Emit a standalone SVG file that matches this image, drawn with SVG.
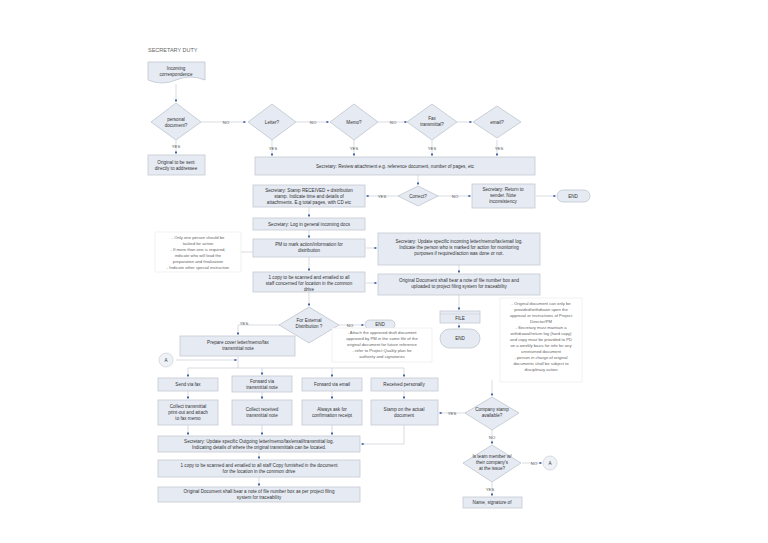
<svg xmlns="http://www.w3.org/2000/svg" width="768" height="543" viewBox="0 0 768 543">
<style>
text{font-family:"Liberation Sans",Arial,sans-serif;font-size:4.6px;fill:#333;text-anchor:middle}
.b{fill:#e6ebf3;stroke:#c4c9d1;stroke-width:0.8}
.d{fill:#e6ebf3;stroke:#b8bec8;stroke-width:0.7}
.n{fill:#fff;stroke:#e2e2e2;stroke-width:0.5}
.l{fill:none;stroke:#c8cdd4;stroke-width:0.7}
.lb{font-size:4.2px;fill:#555}
.nt{font-size:4.2px;fill:#666}
</style>
<defs><marker id="a" viewBox="0 0 6 6" refX="5.5" refY="3" markerWidth="4" markerHeight="4" orient="auto"><path d="M0,0L6,3L0,6z" fill="#3f63a8"/></marker></defs>
<rect width="768" height="543" fill="#fff"/>
<text x="148" y="52" style="text-anchor:start;font-size:5.5px;fill:#666">SECRETARY DUTY</text>
<g id="connectors" class="l" marker-end="url(#a)">
<path d="M176,84V102"/>
<path d="M201,122H246"/><path d="M296,122H329"/><path d="M378,122H407"/><path d="M457,122H472"/>
<path d="M176,140V154"/><path d="M272,140V156"/><path d="M354,140V156"/><path d="M432,140V156"/><path d="M497,140V156"/>
<path d="M418,175V185"/><path d="M399,196H366"/><path d="M437,196H471"/><path d="M536,196H556"/>
<path d="M309,207V217"/><path d="M309,230V238"/><path d="M309,257V271"/>
<path d="M366,248H377"/><path d="M459,265V273"/><path d="M366,283H377"/>
<path d="M459,295V310"/><path d="M459,323V328"/>
<path d="M309,292V306"/><path d="M339,325H364"/>
<path d="M280,325H238V335"/>
<path d="M238,356V368H188V377" /><path d="M176,360H237"/>
<path d="M238,368H262V375"/><path d="M262,368H332V377"/><path d="M332,368H404V377"/>
<path d="M188,391V399"/><path d="M262,392V399"/><path d="M332,391V399"/><path d="M404,391V399"/>
<path d="M188,425V435"/><path d="M262,425V435"/><path d="M332,425V435"/>
<path d="M492,380V396"/><path d="M467,413H439"/>
<path d="M404,425V444H361"/>
<path d="M492,430V444"/><path d="M522,463H542"/><path d="M492,482V496"/>
<path d="M259,452V459"/><path d="M259,477V486"/>
<path d="M240,252H253" marker-end="none"/>
</g>
<g id="n-start"><path class="d" d="M148,62H205V80Q190,74 176,80T148,80Z"/><text x="176" y="70">Incoming</text><text x="176" y="76">correspondence</text></g>
<g id="d-personal"><path class="d" d="M176,103L201,122L176,140L151,122Z"/><text x="176" y="121">personal</text><text x="176" y="127">document?</text></g>
<g id="d-letter"><path class="d" d="M272,104L296,122L272,140L248,122Z"/><text x="272" y="124">Letter?</text></g>
<g id="d-memo"><path class="d" d="M354,104L378,122L354,140L330,122Z"/><text x="354" y="124">Memo?</text></g>
<g id="d-fax"><path class="d" d="M432,104L457,122L432,140L407,122Z"/><text x="432" y="120">Fax</text><text x="432" y="126">transmittal?</text></g>
<g id="d-email"><path class="d" d="M497,106L521,122L497,138L473,122Z"/><text x="497" y="124">email?</text></g>
<g class="lb"><text class="lb" x="226" y="124">NO</text><text class="lb" x="313" y="124">NO</text><text class="lb" x="393" y="124">NO</text>
<text class="lb" x="176" y="148">YES</text><text class="lb" x="273" y="150">YES</text><text class="lb" x="354" y="150">YES</text><text class="lb" x="432" y="150">YES</text><text class="lb" x="499" y="150">YES</text>
<text class="lb" x="382" y="198">YES</text><text class="lb" x="455" y="198">NO</text><text class="lb" x="244" y="325">YES</text><text class="lb" x="350" y="327">NO</text>
<text class="lb" x="452" y="415">YES</text><text class="lb" x="492" y="439">NO</text><text class="lb" x="534" y="465">NO</text><text class="lb" x="490" y="491">YES</text></g>
<g id="n-original"><rect class="b" x="148" y="155" width="57" height="20"/><text x="176" y="164">Original to be sent</text><text x="176" y="170">directly to addressee</text></g>
<g id="n-review"><rect class="b" x="255" y="157" width="280" height="18"/><text x="395" y="168">Secretary: Review attachment e.g. reference document, number of pages, etc</text></g>
<g id="d-correct"><path class="d" d="M418,186L438,196L418,206L398,196Z"/><text x="418" y="198">Correct?</text></g>
<g id="n-stamp"><rect class="b" x="253" y="185" width="112" height="22"/><text x="309" y="192">Secretary: Stamp RECEIVED + distribution</text><text x="309" y="198">stamp. Indicate time and details of</text><text x="309" y="204">attachments. E.g total pages, with CD etc</text></g>
<g id="n-return"><rect class="b" x="472" y="184" width="63" height="24"/><text x="503" y="191">Secretary: Return to</text><text x="503" y="197">sender. Note</text><text x="503" y="203">inconsistency</text></g>
<g id="n-end1"><rect class="d" x="557" y="190" width="33" height="12" rx="6"/><text x="573" y="198">END</text></g>
<g id="n-log"><rect class="b" x="253" y="218" width="112" height="12"/><text x="309" y="226">Secretary: Log in general incoming docs</text></g>
<g id="n-note1"><rect class="n" x="155" y="232" width="86" height="40"/><g class="nt"><text class="nt" x="198" y="239">- Only one person should be</text><text class="nt" x="198" y="245">tasked for action</text><text class="nt" x="198" y="251">- If more than one is required,</text><text class="nt" x="198" y="257">indicate who will lead the</text><text class="nt" x="198" y="263">preparation and finalization</text><text class="nt" x="198" y="269">- Indicate other special instruction</text></g></g>
<g id="n-pm"><rect class="b" x="253" y="239" width="112" height="18"/><text x="309" y="246">PM to mark action/information for</text><text x="309" y="252">distribution</text></g>
<g id="n-update-in"><rect class="b" x="378" y="233" width="162" height="32"/><text x="459" y="243">Secretary: Update specific incoming letter/memo/fax/email log.</text><text x="459" y="249">Indicate the person who is marked for action for monitoring</text><text x="459" y="255">purposes if required/action was done or not.</text></g>
<g id="n-copy1"><rect class="b" x="253" y="272" width="112" height="20"/><text x="309" y="279">1 copy to be scanned and emailed to all</text><text x="309" y="285">staff concerned for location in the common</text><text x="309" y="291">drive</text></g>
<g id="n-orig1"><rect class="b" x="378" y="274" width="162" height="21"/><text x="459" y="282">Original Document shall bear a note of file number box and</text><text x="459" y="288">uploaded to project filing system for traceability</text></g>
<g id="d-external"><path class="d" d="M309,307L339,325L309,343L279,325Z"/><text x="309" y="322">For External</text><text x="309" y="328">Distribution ?</text></g>
<g id="n-end2"><rect class="d" x="365" y="320" width="30" height="9" rx="4.5"/><text x="380" y="326">END</text></g>
<g id="n-note2"><rect class="n" x="332" y="328" width="100" height="34"/><g class="nt"><text class="nt" x="382" y="334">- Attach the approved draft document</text><text class="nt" x="382" y="340">approved by PM in the same file of the</text><text class="nt" x="382" y="346">original document for future reference</text><text class="nt" x="382" y="352">- refer to Project Quality plan for</text><text class="nt" x="382" y="358">authority and signatories</text></g></g>
<g id="n-file"><rect class="b" x="440" y="311" width="40" height="12"/><line x1="440" y1="314" x2="480" y2="314" stroke="#c4c9d1" stroke-width="0.5"/><text x="460" y="320">FILE</text></g>
<g id="n-end3"><rect class="d" x="440" y="329" width="40" height="19" rx="9.5"/><text x="460" y="340">END</text></g>
<g id="n-note3"><rect class="n" x="500" y="298" width="82" height="84"/><g class="nt"><text class="nt" x="541" y="305">- Original document can only be</text><text class="nt" x="541" y="311">provided/withdrawn upon the</text><text class="nt" x="541" y="317">approval or instructions of Project</text><text class="nt" x="541" y="323">Director/PM</text><text class="nt" x="541" y="329">- Secretary must maintain a</text><text class="nt" x="541" y="335">withdrawal/return log (hard copy)</text><text class="nt" x="541" y="341">and copy must be provided to PD</text><text class="nt" x="541" y="347">on a weekly basis for info for any</text><text class="nt" x="541" y="353">unreturned document</text><text class="nt" x="541" y="359">- person in charge of original</text><text class="nt" x="541" y="365">documents shall be subject to</text><text class="nt" x="541" y="371">disciplinary action</text></g></g>
<g id="n-prepare"><rect class="b" x="180" y="336" width="115" height="20"/><text x="238" y="344">Prepare cover letter/memo/fax</text><text x="238" y="350">transmittal note</text></g>
<g id="n-a1"><circle cx="166" cy="360" r="7" fill="#eef1f6" stroke="#c4c9d1" stroke-width="0.6"/><text x="166" y="362">A</text></g>
<g id="n-fax"><rect class="b" x="158" y="378" width="60" height="13"/><text x="188" y="386">Send via fax</text></g>
<g id="n-trans"><rect class="b" x="232" y="376" width="60" height="16"/><text x="262" y="383">Forward via</text><text x="262" y="389">transmittal note</text></g>
<g id="n-email"><rect class="b" x="302" y="378" width="60" height="13"/><text x="332" y="386">Forward via email</text></g>
<g id="n-person"><rect class="b" x="371" y="378" width="67" height="13"/><text x="404" y="386">Received personally</text></g>
<g id="n-collect1"><rect class="b" x="158" y="400" width="60" height="25"/><text x="188" y="408">Collect transmittal</text><text x="188" y="414">print-out and attach</text><text x="188" y="420">to fax memo</text></g>
<g id="n-collect2"><rect class="b" x="232" y="400" width="60" height="25"/><text x="262" y="411">Collect received</text><text x="262" y="417">transmittal note</text></g>
<g id="n-confirm"><rect class="b" x="302" y="400" width="60" height="25"/><text x="332" y="411">Always ask for</text><text x="332" y="417">confirmation receipt</text></g>
<g id="n-stampdoc"><rect class="b" x="371" y="400" width="67" height="25"/><text x="404" y="411">Stamp on the actual</text><text x="404" y="417">document</text></g>
<g id="d-company"><path class="d" d="M492,397L519,413L492,430L465,413Z"/><text x="492" y="411">Company stamp</text><text x="492" y="417">available?</text></g>
<g id="n-update-out"><rect class="b" x="158" y="436" width="202" height="16"/><text x="259" y="443">Secretary: Update specific Outgoing letter/memo/fax/email/transmittal log.</text><text x="259" y="449">Indicating details of where the original transmittals can be located.</text></g>
<g id="n-copy2"><rect class="b" x="158" y="460" width="202" height="17"/><text x="259" y="467">1 copy to be scanned and emailed to all staff Copy furnished in the document</text><text x="259" y="473">for the location in the common drive</text></g>
<g id="n-orig2"><rect class="b" x="158" y="487" width="202" height="15"/><text x="259" y="493">Original Document shall bear a note of file number box as per project filing</text><text x="259" y="499">system for traceability</text></g>
<g id="d-team"><path class="d" d="M492,445L521,463L492,482L463,463Z"/><text x="492" y="458">Is team member w/</text><text x="492" y="464">their company's</text><text x="492" y="470">at the issue?</text></g>
<g id="n-a2"><circle cx="550" cy="463" r="7" fill="#eef1f6" stroke="#c4c9d1" stroke-width="0.6"/><text x="550" y="465">A</text></g>
<g id="n-name"><rect class="b" x="463" y="497" width="59" height="11"/><text x="492" y="504">Name, signature of</text></g>
</svg>
